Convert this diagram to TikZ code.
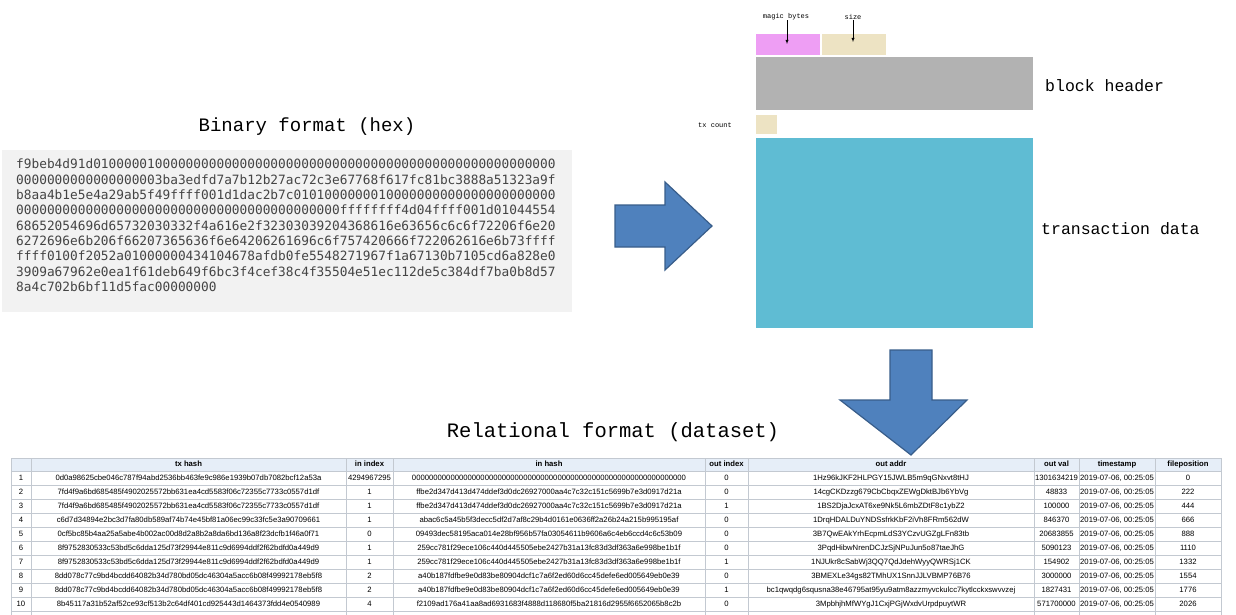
\documentclass[tikz,border=0pt]{standalone}
\usepackage{fontspec}
\setmainfont{Liberation Sans}
\newfontfamily\hexfont{DejaVu Sans Mono}
\newfontfamily\lblfont{Liberation Mono}
\definecolor{hexbg}{HTML}{F2F2F2}
\definecolor{hextext}{HTML}{444444}
\definecolor{arrowblue}{HTML}{4F81BD}
\definecolor{arrowedge}{HTML}{385D8A}
\definecolor{magic}{HTML}{EE9EF4}
\definecolor{beige}{HTML}{EDE3C3}
\definecolor{hdrgray}{HTML}{B2B2B2}
\definecolor{txteal}{HTML}{5FBCD3}
\definecolor{thead}{HTML}{E6EEF8}
\definecolor{grid}{HTML}{C3C9D1}
\begin{document}
\begin{tikzpicture}[x=1pt,y=-1pt,
			title/.style={font=\lblfont\fontsize{19}{22}\selectfont,inner sep=0pt},
			part/.style={font=\lblfont\fontsize{16.5}{20}\selectfont,inner sep=0pt,anchor=west},
			tiny/.style={font=\lblfont\fontsize{7}{8}\selectfont,inner sep=0pt},
			cell/.style={font=\fontsize{7.7}{9}\selectfont,inner sep=0pt,text height=5.6pt,text depth=1.6pt},
			bigarrow/.style={fill=arrowblue,draw=arrowedge,line width=1.2pt,line join=miter}]
			\useasboundingbox (0,0) rectangle (1236,615);
			% binary side
			\fill[hexbg] (2,150) rectangle (572,312);
			\node[title] (bintitle) at (307,127) {Binary format (hex)};
			\node[font=\hexfont\fontsize{12.8}{15.3}\selectfont,text=hextext,align=left,anchor=north west,inner sep=0pt] (hex) at (16,159) {%
				f9beb4d91d010000010000000000000000000000000000000000000000000000000000\\
				0000000000000000003ba3edfd7a7b12b27ac72c3e67768f617fc81bc3888a51323a9f\\
				b8aa4b1e5e4a29ab5f49ffff001d1dac2b7c0101000000010000000000000000000000\\
				000000000000000000000000000000000000000000ffffffff4d04ffff001d01044554\\
				68652054696d65732030332f4a616e2f32303039204368616e63656c6c6f72206f6e20\\
				6272696e6b206f66207365636f6e64206261696c6f757420666f722062616e6b73ffff\\
				ffff0100f2052a01000000434104678afdb0fe5548271967f1a67130b7105cd6a828e0\\
				3909a67962e0ea1f61deb649f6bc3f4cef38c4f35504e51ec112de5c384df7ba0b8d57\\
				8a4c702b6bf11d5fac00000000};
			% arrows
			\draw[bigarrow] (615,205) -- (665,205) -- (665,182) -- (712,226) -- (665,270) -- (665,247) -- (615,247) -- cycle;
			\draw[bigarrow] (890,350) -- (932,350) -- (932,400) -- (967,400) -- (911,455) -- (840,400) -- (890,400) -- cycle;
			% block layout
			\fill[magic] (756,34) rectangle (820,55);
			\fill[beige] (822,34) rectangle (886,55);
			\fill[hdrgray] (756,57) rectangle (1033,110);
			\fill[beige] (756,115) rectangle (777,134);
			\fill[txteal] (756,138) rectangle (1033,328);
			\node[tiny] (magiclbl) at (786,17) {magic bytes};
			\node[tiny] (sizelbl) at (853,17) {size};
			\node[tiny] (txcount) at (715,125) {tx count};
			\coordinate (magicend) at (787,44);
			\coordinate (sizeend) at (853,42);
			\draw[-latex] (magiclbl.south -| magicend) -- (magicend);
			\draw[-latex] (sizelbl.south) -- (sizeend);
			\node[part] (header) at (1045,86) {block header};
			\node[part] (txdata) at (1041,229) {transaction data};
			% table
			\node[title,font=\lblfont\fontsize{20.5}{24}\selectfont] (reltitle) at (613,432) {Relational format (dataset)};
			\fill[thead] (11,458) rectangle (1221,471);
			\foreach \xa/\xb/\name in {31/346/tx hash,346/393/in index,393/705/in hash,705/748/out index,748/1034/out addr,1034/1079/out val,1079/1155/timestamp,1155/1221/fileposition}
				\node[cell,font=\bfseries\fontsize{7.7}{9}\selectfont] (h-\xa) at ({(\xa+\xb)/2},464.5) {\name};
			\foreach \r/\tx/\ii/\ih/\oi/\oa/\ov/\fp in {
				1/0d0a98625cbe046c787f94abd2536bb463fe9c986e1939b07db7082bcf12a53a/4294967295/0000000000000000000000000000000000000000000000000000000000000000/0/1Hz96kJKF2HLPGY15JWLB5m9qGNxvt8tHJ/1301634219/0,
				2/7fd4f9a6bd685485f4902025572bb631ea4cd5583f06c72355c7733c0557d1df/1/ffbe2d347d413d474ddef3d0dc26927000aa4c7c32c151c5699b7e3d0917d21a/0/14cgCKDzzg679CbCbqxZEWgDktBJb6YbVg/48833/222,
				3/7fd4f9a6bd685485f4902025572bb631ea4cd5583f06c72355c7733c0557d1df/1/ffbe2d347d413d474ddef3d0dc26927000aa4c7c32c151c5699b7e3d0917d21a/1/1BS2DjaJcxAT6xe9Nk5L6mbZDtF8c1ybZ2/100000/444,
				4/c6d7d34894e2bc3d7fa80db589af74b74e45bf81a06ec99c33fc5e3a90709661/1/abac6c5a45b5f3decc5df2d7af8c29b4d0161e0636ff2a26b24a215b995195af/0/1DrqHDALDuYNDSsfrkKbF2iVh8FRm562dW/846370/666,
				5/0cf5bc85b4aa25a5abe4b002ac00d8d2a8b2a8da6bd136a8f23dcfb1f46a0f71/0/09493dec58195aca014e28bf956b57fa03054611b9606a6c4eb6ccd4c6c53b09/0/3B7QwEAkYrhEcpmLdS3YCzvUGZgLFn83tb/20683855/888,
				6/8f9752830533c53bd5c6dda125d73f29944e811c9d6994ddf2f62bdfd0a449d9/1/259cc781f29ece106c440d445505ebe2427b31a13fc83d3df363a6e998be1b1f/0/3PqdHibwNrenDCJzSjNPuJun5o87taeJhG/5090123/1110,
				7/8f9752830533c53bd5c6dda125d73f29944e811c9d6994ddf2f62bdfd0a449d9/1/259cc781f29ece106c440d445505ebe2427b31a13fc83d3df363a6e998be1b1f/1/1NJUkr8cSabWj3QQ7QdJdehWyyQWRSj1CK/154902/1332,
				8/8dd078c77c9bd4bcdd64082b34d780bd05dc46304a5acc6b08f49992178eb5f8/2/a40b187fdfbe9e0d83be80904dcf1c7a6f2ed60d6cc45defe6ed005649eb0e39/0/3BMEXLe34gs82TMhUX1SnnJJLVBMP76B76/3000000/1554,
				9/8dd078c77c9bd4bcdd64082b34d780bd05dc46304a5acc6b08f49992178eb5f8/2/a40b187fdfbe9e0d83be80904dcf1c7a6f2ed60d6cc45defe6ed005649eb0e39/1/bc1qwqdg6squsna38e46795at95yu9atm8azzmyvckulcc7kytlcckxswvvzej/1827431/1776,
				10/8b45117a31b52af52ce93cf513b2c64df401cd925443d1464373fdd4e0540989/4/f2109ad176a41aa8ad6931683f4888d118680f5ba21816d2955f6652065b8c2b/0/3MpbhjhMfWYgJ1CxjPGjWxdvUrpdpuytWR/571700000/2026}{
				\node[cell] (n-\r) at (21,{471+14*\r-7}) {\r};
				\node[cell] (tx-\r) at (188.5,{471+14*\r-7}) {\tx};
				\node[cell] (ii-\r) at (369.5,{471+14*\r-7}) {\ii};
				\node[cell] (ih-\r) at (549,{471+14*\r-7}) {\ih};
				\node[cell] (oi-\r) at (726.5,{471+14*\r-7}) {\oi};
				\node[cell] (oa-\r) at (891,{471+14*\r-7}) {\oa};
				\node[cell] (ov-\r) at (1056.5,{471+14*\r-7}) {\ov};
				\node[cell] (ts-\r) at (1117,{471+14*\r-7}) {2019-07-06, 00:25:05};
				\node[cell] (fp-\r) at (1188,{471+14*\r-7}) {\fp};
			}
			\foreach \x in {11,31,346,393,705,748,1034,1079,1155,1221}
				\draw[grid,line width=0.8pt] (\x,458) -- (\x,615);
			\foreach \y in {458,471,485,499,513,527,541,555,569,583,597,611}
				\draw[grid,line width=0.8pt] (11,\y) -- (1221,\y);
		\end{tikzpicture}
\end{document}
